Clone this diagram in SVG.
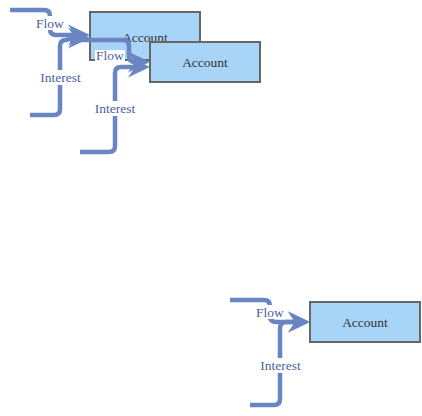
<svg xmlns="http://www.w3.org/2000/svg" width="422" height="416" viewBox="0 0 422 416">
<style>
.box{fill:#a8d4f7;stroke:#666666;stroke-width:2}
.name{font-family:"Liberation Serif","Times New Roman",serif;font-size:13.5px;fill:#333333;text-anchor:middle}
.edge{fill:none;stroke:#6a86c2;stroke-width:4.5;stroke-linejoin:round;marker-end:url(#arr)}
.lbg{fill:#ffffff}
.lbl{font-family:"Liberation Serif","Times New Roman",serif;font-size:13.5px;fill:#4d5f9e;text-anchor:middle}
</style>
<defs>
<marker id="arr" markerUnits="userSpaceOnUse" markerWidth="26" markerHeight="26" viewBox="0 -13 26 26" refX="7" refY="0" orient="auto" overflow="visible">
<path d="M0,-10.5 L22,0 L0,10.5 L7,0 Z" fill="#6a86c2"/>
</marker>
</defs>
<g id="account1">
<rect class="box" x="90" y="12" width="110" height="48"/>
<text class="name" x="145" y="41.5">Account</text>
</g>
<g id="account2">
<rect class="box" x="150" y="42" width="110" height="40"/>
<text class="name" x="205" y="66.5">Account</text>
</g>
<g id="account3">
<rect class="box" x="310" y="302" width="110" height="40"/>
<text class="name" x="365" y="326.5">Account</text>
</g>
<g id="connectors">
<path class="edge" d="M10,10 H44 Q50,10 50,16 V29 Q50,35 56,35 H75"/>
<path class="edge" d="M30,115 H54 Q60,115 60,109 V46 Q60,40 66,40 Q72,38 75,38"/>
<path class="edge" d="M70,40 H123 Q129,40 129,46 V56 Q129,62 135,62 H135"/>
<path class="edge" d="M80,152 H109 Q115,152 115,146 V73 Q115,67 121,67 H135"/>
<path class="edge" d="M230,300 H264 Q270,300 270,306 V316 Q270,322 276,322 H295"/>
<path class="edge" d="M250,405 H274 Q280,405 280,399 V328 Q280,322 286,322 H295"/>
</g>
<g id="labels">
<rect class="lbg" x="35" y="16" width="30" height="14"/>
<text class="lbl" x="50" y="28">Flow</text>
<rect class="lbg" x="38" y="70" width="45" height="15"/>
<text class="lbl" x="60.5" y="82">Interest</text>
<rect class="lbg" x="95" y="50" width="30" height="13"/>
<text class="lbl" x="110" y="60">Flow</text>
<rect class="lbg" x="93" y="101" width="45" height="15"/>
<text class="lbl" x="115" y="113">Interest</text>
<rect class="lbg" x="255" y="305" width="30" height="14"/>
<text class="lbl" x="270" y="316.5">Flow</text>
<rect class="lbg" x="258" y="358" width="45" height="15"/>
<text class="lbl" x="280.5" y="370">Interest</text>
</g>
</svg>
